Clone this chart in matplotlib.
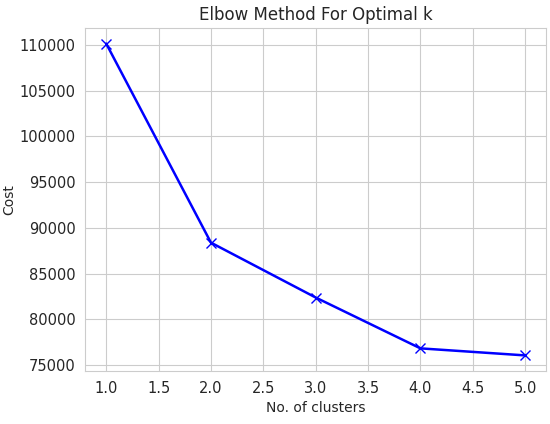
import numpy as np
import seaborn as sns
from matplotlib import pyplot as plt

# Elbow curve values
k_values = [1, 2, 3, 4, 5]
cost = [110150, 88380, 82380, 76820, 76050]

sns.set_style("whitegrid")

fig = plt.figure(figsize=(5.5, 4.24), dpi=100)
ax = fig.add_axes([0.155, 0.125, 0.838, 0.809])
ax.plot(k_values, cost, 'bx-', linewidth=1.8, markersize=7)
ax.set_xlabel('No. of clusters', fontsize=10)
ax.set_ylabel('Cost', fontsize=10, labelpad=2)
ax.set_title('Elbow Method For Optimal k', fontsize=12)
ax.tick_params(labelsize=10.5)

fig.savefig('out.png', dpi=100)
